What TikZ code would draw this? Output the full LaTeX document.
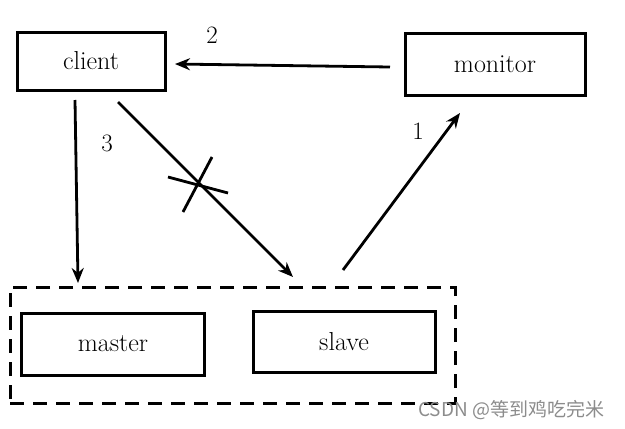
\documentclass[tikz,border=0pt]{standalone}
\usepackage{fontspec}
\newfontfamily\cjk{Noto Sans CJK SC}
\usetikzlibrary{arrows.meta}
\begin{document}
\begin{tikzpicture}[x=1pt,y=-1pt,
  box/.style={draw,line width=3pt,rectangle,inner sep=0pt,font=\fontsize{26}{30}\selectfont},
  grp/.style={draw,line width=3pt,dash pattern=on 14pt off 9pt,rectangle,inner sep=0pt},
  arr/.style={line width=2.8pt,-{Stealth[length=15pt,width=12pt]}},
  lbl/.style={font=\fontsize{25}{29}\selectfont},
  crs/.style={line width=2.8pt}]
\useasboundingbox (0,0) rectangle (625,429);
\node[box,minimum width=148pt,minimum height=58pt] (client) at (91,61) {client};
\node[box,minimum width=180pt,minimum height=62pt] (monitor) at (495,64) {monitor};
\node[grp,minimum width=445pt,minimum height=116pt] (group) at (232.5,345) {};
\node[box,minimum width=183pt,minimum height=62pt] (master) at (113,344) {master};
\node[box,minimum width=182pt,minimum height=61pt] (slave) at (344,342) {slave};
% connector ends
\coordinate (m2s) at (390,67);
\coordinate (m2e) at (175,64);
\coordinate (s1s) at (343,270);
\coordinate (s1e) at (460,113);
\coordinate (c3s) at (75,100);
\coordinate (c3e) at (78,283);
\coordinate (c4s) at (118,102);
\coordinate (c4e) at (293,277);
\draw[arr] (m2s) -- (m2e);
\draw[arr] (s1s) -- (s1e);
\draw[arr] (c3s) -- (c3e);
\draw[arr] (c4s) -- (c4e);
\node[lbl] (l2) at (212,35) {2};
\node[lbl] (l1) at (418,131) {1};
\node[lbl] (l3) at (107,143) {3};
\coordinate (x1a) at (168,177);
\coordinate (x1b) at (228,193);
\coordinate (x2a) at (212,157);
\coordinate (x2b) at (183,212);
\draw[crs] (x1a) -- (x1b);
\draw[crs] (x2a) -- (x2b);
\node[font=\cjk\fontsize{19}{22}\selectfont,text=black!45,anchor=west,inner sep=0pt] (wm) at (418,410) {CSDN @等到鸡吃完米};
\end{tikzpicture}
\end{document}
